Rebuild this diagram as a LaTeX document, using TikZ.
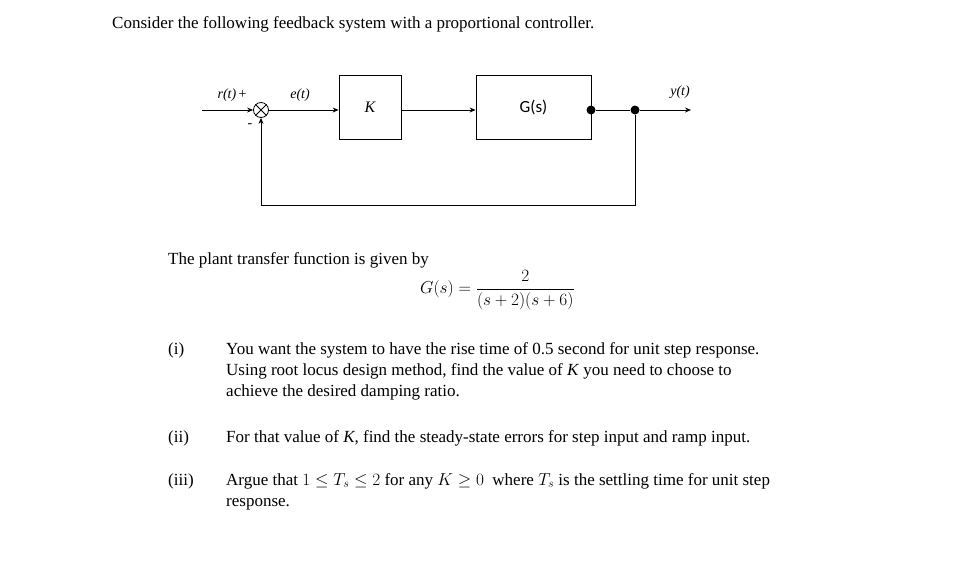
\documentclass[tikz,border=0pt]{standalone}
\usepackage{fontspec}
\setmainfont{Liberation Serif}
\newfontfamily\calib{Carlito}
\usetikzlibrary{arrows.meta}
\begin{document}
\begin{tikzpicture}[x=1pt,y=-1pt,
  txt/.style={anchor=base west,inner sep=0pt,font=\fontsize{17}{20}\selectfont},
  blk/.style={draw,thick,minimum height=64pt,inner sep=0pt},
  lbl/.style={font=\fontsize{14}{16}\selectfont\itshape,inner sep=0pt},
  wire/.style={thick,-{Stealth[length=6pt,width=5pt]}},
  dot/.style={circle,fill,inner sep=0pt,minimum size=9pt}]
\useasboundingbox (0,0) rectangle (960,566);
\node[txt] (t1) at (112,28) {Consider the following feedback system with a proportional controller.};
% diagram
\node[draw,thick,circle,minimum size=15pt,inner sep=0pt] (sum) at (261,110) {};
\draw[thick] (sum.north west) -- (sum.south east) (sum.north east) -- (sum.south west);
\coordinate (in) at (202,110);
\node[blk,minimum width=62pt] (K) at (370,107) {\fontsize{16}{18}\selectfont\itshape K};
\node[blk,minimum width=115pt] (G) at (533.5,107) {\calib\fontsize{17}{20}\selectfont G(s)};
\node[dot] (d1) at (591,110) {};
\node[dot] (d2) at (635,110) {};
\coordinate (out) at (691,110);
\coordinate (bl) at (261,205);
\coordinate (br) at (635,205);
\draw[wire] (in) -- (sum);
\draw[wire] (sum) -- (K.west |- sum);
\draw[wire] (K.east |- sum) -- (G.west |- sum);
\draw[thick] (d1) -- (d2);
\draw[wire] (d2) -- (out);
\draw[wire] (d2) -- (br) -- (bl) -- (sum);
\node[lbl] (lr) at (232,95) {r(t)\,\upshape+};
\node[lbl] (le) at (300,95) {e(t)};
\node[lbl] (ly) at (680,92) {y(t)};
\node[lbl] (lm) at (250,126) {\upshape -};
% text
\node[txt] (t2) at (168,264) {The plant transfer function is given by};
\node[inner sep=0pt,anchor=west] (eq) at (420,290) {\fontsize{17}{20}\selectfont$\displaystyle G(s)=\frac{2}{(s+2)(s+6)}$};
\node[txt] (i1) at (168,354) {(i)};
\node[txt] (a1) at (226,354) {You want the system to have the rise time of 0.5 second for unit step response.};
\node[txt] (a2) at (226,375) {Using root locus design method, find the value of \textit{K} you need to choose to};
\node[txt] (a3) at (226,396) {achieve the desired damping ratio.};
\node[txt] (i2) at (168,442) {(ii)};
\node[txt] (b1) at (226,442) {For that value of \textit{K}, find the steady-state errors for step input and ramp input.};
\node[txt] (i3) at (168,485) {(iii)};
\node[txt] (c1) at (226,485) {Argue that $1\le T_s\le 2$ for any $K\ge 0$ \ where $T_s$ is the settling time for unit step};
\node[txt] (c2) at (226,506) {response.};
\end{tikzpicture}
\end{document}
